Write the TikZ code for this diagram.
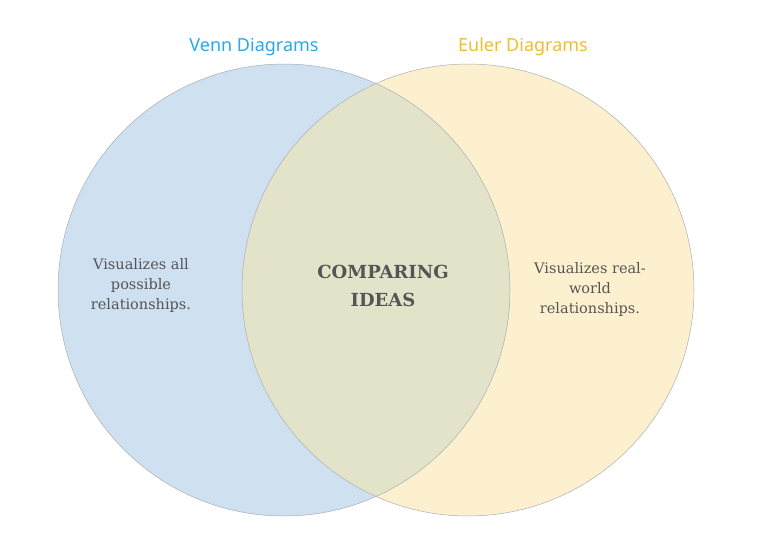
\documentclass[tikz,border=0pt]{standalone}
\usepackage{fontspec}
\setmainfont{DejaVu Serif}
\newfontfamily\titlefont{Noto Sans}
\definecolor{vennblue}{HTML}{CFE0F1}
\definecolor{euleryel}{HTML}{FDF0CE}
\definecolor{overlapc}{HTML}{E3E3C9}
\definecolor{edgec}{HTML}{A8AFB5}
\definecolor{txtc}{HTML}{555555}
\definecolor{titleblue}{HTML}{2AA8E8}
\definecolor{titleyel}{HTML}{EFBE2F}
\begin{document}
\begin{tikzpicture}[x=1pt,y=-1pt,
  ttl/.style={font=\titlefont\fontsize{18}{20}\selectfont},
  body/.style={font=\fontsize{14.5}{20}\selectfont,text=txtc,align=center},
  center/.style={font=\bfseries\fontsize{18}{28}\selectfont,text=txtc,align=center}]
\useasboundingbox (0,0) rectangle (768,544);
\fill[vennblue] (284,290) circle (226);
\fill[euleryel] (468,290) circle (226);
\begin{scope}
\clip (284,290) circle (226);
\fill[overlapc] (468,290) circle (226);
\end{scope}
\draw[edgec,line width=0.5pt] (284,290) circle (226);
\draw[edgec,line width=0.5pt] (468,290) circle (226);
\node[ttl,text=titleblue] (t1) at (254,47) {Venn Diagrams};
\node[ttl,text=titleyel] (t2) at (523,47) {Euler Diagrams};
\node[body] (l) at (141,285) {Visualizes all\\possible\\relationships.};
\node[body] (r) at (590,289) {Visualizes real-\\world\\relationships.};
\node[center] (c) at (383,286) {COMPARING\\IDEAS};
\end{tikzpicture}
\end{document}
